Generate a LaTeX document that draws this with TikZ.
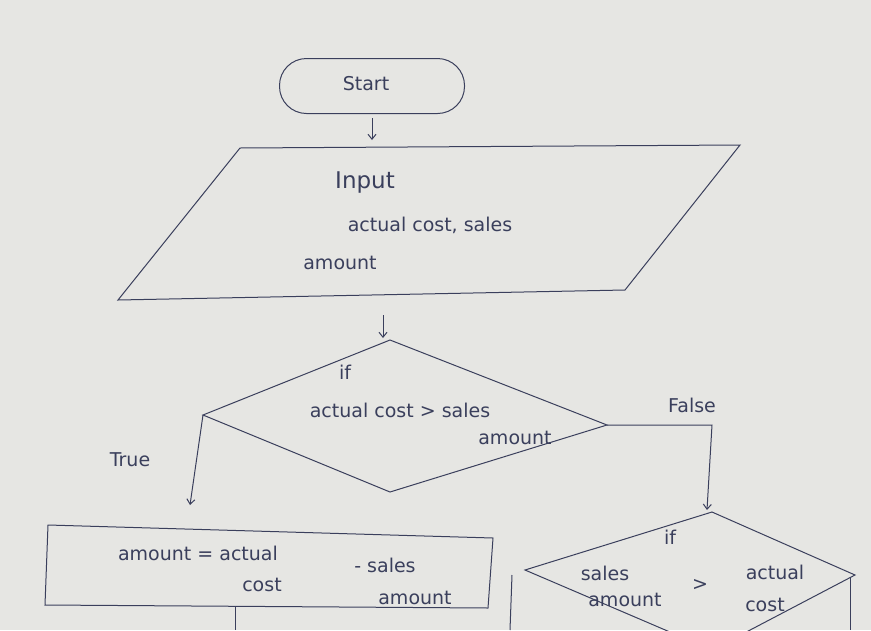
\documentclass[tikz,border=0pt]{standalone}
\usepackage{fontspec}
\setmainfont{DejaVu Sans}
\usetikzlibrary{arrows.meta}
\definecolor{paper}{HTML}{E6E6E3}
\definecolor{ink}{HTML}{3A3F5C}
\tikzset{ln/.style={draw=ink,line width=1pt},arr/.style={ln,-{Straight Barb[length=5pt,width=8pt]}},
 txt/.style={text=ink,font=\fontsize{19}{21}\selectfont,inner sep=0pt}}
\begin{document}
\begin{tikzpicture}[x=1pt,y=-1pt]
\fill[paper] (0,0) rectangle (871,630);
\useasboundingbox (0,0) rectangle (871,630);
\node[ln,rounded corners=27pt,minimum width=185pt,minimum height=55pt] (start) at (372,86) {};
\node[txt] at (366,84) {Start};
\coordinate (s1) at (372,118); \coordinate (s2) at (372,140);
\draw[arr] (s1) -- (s2);
\draw[ln] (240,148) coordinate (p1) -- (740,145) coordinate (p2) -- (625,290) coordinate (p3) -- (118,300) coordinate (p4) -- cycle;
\node[txt,font=\fontsize{23}{25}\selectfont] at (365,183) {Input};
\node[txt] at (430,225) {actual cost, sales};
\node[txt] at (340,263) {amount};
\coordinate (i1) at (383,315); \coordinate (i2) at (383,338);
\draw[arr] (i1) -- (i2);
\draw[ln] (390,340) coordinate (dt) -- (607,425) coordinate (dr) -- (390,492) coordinate (db) -- (203,415) coordinate (dl) -- cycle;
\node[txt] at (345,372) {if};
\node[txt] at (400,410) {actual cost > sales};
\node[txt] at (515,438) {amount};
\coordinate (t1) at (190,505);
\draw[arr] (dl) -- (t1);
\node[txt] at (130,460) {True};
\coordinate (f1) at (712,425); \coordinate (f2) at (707,510);
\draw[arr] (dr) -- (f1) -- (f2);
\node[txt] at (692,405) {False};
\draw[ln] (48,525) coordinate (r1) -- (493,538) -- (488,608) -- (45,605) -- cycle;
\node[txt] at (198,553) {amount = actual};
\node[txt] at (262,585) {cost};
\node[txt] at (385,565) {- sales};
\node[txt] at (415,598) {amount};
\coordinate (b1) at (235,607); \coordinate (b2) at (235,630);
\draw[ln] (b1) -- (b2);
\draw[ln] (712,512) coordinate (et) -- (855,575) coordinate (er) -- (712,650) -- (525,570) coordinate (el) -- cycle;
\draw[ln] (512,575) -- (510,630);
\draw[ln] (850,578) -- (850,630);
\node[txt] at (670,537) {if};
\node[txt] at (605,573) {sales};
\node[txt] at (625,600) {amount};
\node[txt] at (700,585) {>};
\node[txt] at (775,572) {actual};
\node[txt] at (765,605) {cost};
\end{tikzpicture}
\end{document}
